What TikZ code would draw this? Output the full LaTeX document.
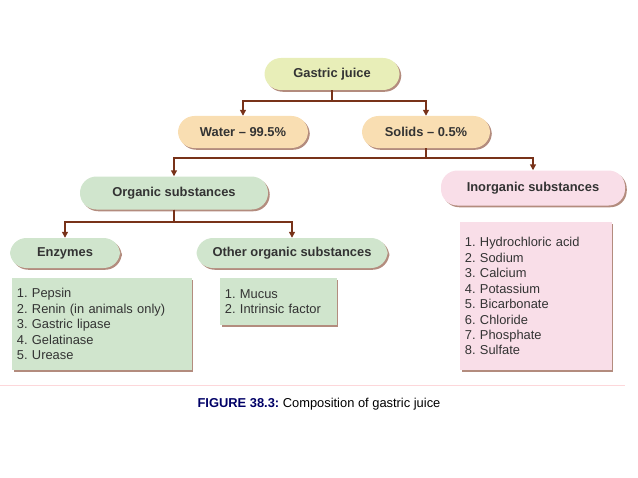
\documentclass[tikz,border=0pt]{standalone}
\usepackage{fontspec}
\setmainfont{Liberation Sans}
\usetikzlibrary{shadows,arrows.meta}
\frenchspacing
\definecolor{lime}{RGB}{232,238,184}
\definecolor{peach}{RGB}{249,222,178}
\definecolor{mint}{RGB}{208,229,205}
\definecolor{blush}{RGB}{249,222,232}
\definecolor{rust}{RGB}{120,50,25}
\tikzset{
  pill/.style={rounded corners=14pt, font=\bfseries\fontsize{11}{13}\selectfont, text=black!80,
    drop shadow={fill=rust!80, opacity=0.7, shadow xshift=1.5pt, shadow yshift=-1.5pt}},
  list/.style={align=left, anchor=north west, font=\fontsize{11}{13.2}\selectfont, text=black!80,
    inner xsep=4pt, inner ysep=8pt, drop shadow={fill=rust!80, opacity=0.7, shadow xshift=1.5pt, shadow yshift=-1.5pt}},
  arr/.style={draw=rust, line width=1.1pt, -{Triangle[length=5pt,width=5pt]}}
}
\begin{document}
\begin{tikzpicture}[x=0.03cm,y=-0.03cm]
\useasboundingbox (0,0) rectangle (638,478);
%TOP
  \node (gj) at (332,74) [pill, fill=lime, minimum width=135*0.03cm, minimum height=32*0.03cm] {Gastric juice};
  \node (water) at (243,132) [pill, fill=peach, minimum width=130*0.03cm, minimum height=32*0.03cm] {Water -- 99.5\%};
  \node (solids) at (426,132) [pill, fill=peach, minimum width=128*0.03cm, minimum height=32*0.03cm] {Solids -- 0.5\%};
  \draw[arr] (gj.south) -- (332,101) -| (water.north);
  \draw[arr] (gj.south) -- (332,101) -| (solids.north);
%SOLIDS
  \node (org) at (174,193) [pill, fill=mint, minimum width=188*0.03cm, minimum height=33*0.03cm] {Organic substances};
  \node (inorg) at (533,188) [pill, fill=blush, minimum width=184*0.03cm, minimum height=35*0.03cm] {Inorganic substances};
  \draw[arr] (solids.south) -- (426,158) -| (org.north);
  \draw[arr] (solids.south) -- (426,158) -| (inorg.north);
%ORGANIC
  \node (enz) at (65,253) [pill, fill=mint, minimum width=110*0.03cm, minimum height=30*0.03cm] {Enzymes};
  \node (other) at (292,253) [pill, fill=mint, minimum width=191*0.03cm, minimum height=30*0.03cm] {Other organic substances};
  \draw[arr] (org.south) -- (174,222) -| (enz.north);
  \draw[arr] (org.south) -- (174,222) -| (other.north);
%LISTS
  \node (enzlist) at (12,278) [list, fill=mint, text width=170*0.03cm, minimum height=92*0.03cm]
    {1. Pepsin\\2. Renin (in animals only)\\3. Gastric lipase\\4. Gelatinase\\5. Urease};
  \node (mucus) at (220,278) [list, fill=mint, text width=107*0.03cm, minimum height=47*0.03cm]
    {1. Mucus\\2. Intrinsic factor};
  \node (ions) at (460,222) [list, fill=blush, text width=142*0.03cm, minimum height=148*0.03cm, inner ysep=12pt]
    {1. Hydrochloric acid\\2. Sodium\\3. Calcium\\4. Potassium\\5. Bicarbonate\\6. Chloride\\7. Phosphate\\8. Sulfate};
%CAPTION
  \draw[blush!70!red!40, line width=0.8pt] (0,385) -- (625,385);
  \node (cap) at (319,404) {\fontsize{11}{13}\selectfont\textcolor{blue!40!black}{\textbf{FIGURE 38.3:}} Composition of gastric juice};
\end{tikzpicture}
\end{document}
